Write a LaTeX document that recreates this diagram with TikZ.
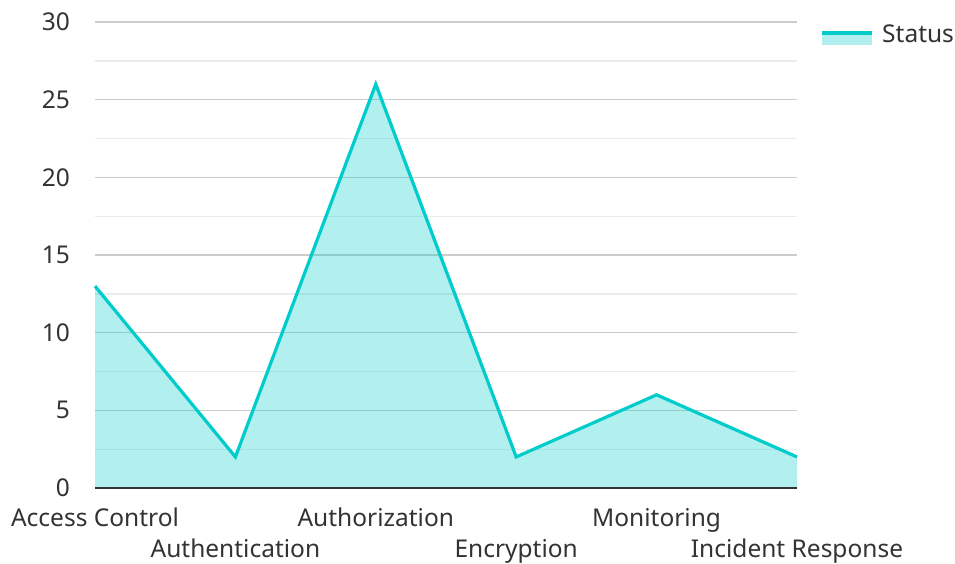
\documentclass[tikz,border=0pt]{standalone}
\usepackage{fontspec}
\setmainfont{Noto Sans}
\begin{document}
\begin{tikzpicture}[x=1pt,y=-1pt,
  lbl/.style={font=\fontsize{24.5}{28}\selectfont,text=black!80,inner sep=0pt},
  major/.style={draw=black!20,line width=1.3pt},
  minor/.style={draw=black!8,line width=1.3pt}]
\definecolor{ser}{RGB}{0,204,204}
\useasboundingbox (0,0) rectangle (955,564);
% grid
\foreach \v in {2.5,7.5,...,27.5}{\draw[minor] (95,{488-15.53*\v}) -- (797,{488-15.53*\v});}
\foreach \v in {5,10,...,30}{\draw[major] (95,{488-15.53*\v}) -- (797,{488-15.53*\v});}
% data
\coordinate (p1) at (95,{488-15.53*13});
\coordinate (p2) at (235.4,{488-15.53*2});
\coordinate (p3) at (375.8,{488-15.53*26});
\coordinate (p4) at (516.2,{488-15.53*2});
\coordinate (p5) at (656.6,{488-15.53*6});
\coordinate (p6) at (797,{488-15.53*2});
\fill[ser,opacity=0.3] (95,488) -- (p1) -- (p2) -- (p3) -- (p4) -- (p5) -- (p6) -- (797,488) -- cycle;
\draw[ser,line width=3.2pt,line join=miter] (p1) -- (p2) -- (p3) -- (p4) -- (p5) -- (p6);
% axis
\draw[black!80,line width=2pt] (95,488) -- (797,488);
% y labels
\foreach \v in {0,5,...,30}{\node[lbl,anchor=east] (y\v) at (70,{488-15.53*\v}) {\v};}
% x labels
\node[lbl,anchor=base] (c1) at (95,526) {Access Control};
\node[lbl,anchor=base] (c2) at (235.4,557) {Authentication};
\node[lbl,anchor=base] (c3) at (375.8,526) {Authorization};
\node[lbl,anchor=base] (c4) at (516.2,557) {Encryption};
\node[lbl,anchor=base] (c5) at (656.6,526) {Monitoring};
\node[lbl,anchor=base] (c6) at (797,557) {Incident Response};
% legend
\fill[ser,opacity=0.3] (822,33) rectangle (872,45);
\draw[ser,line width=3.5pt] (822,33) -- (872,33);
\node[lbl,anchor=west] (leg) at (882,34) {Status};
\end{tikzpicture}
\end{document}
